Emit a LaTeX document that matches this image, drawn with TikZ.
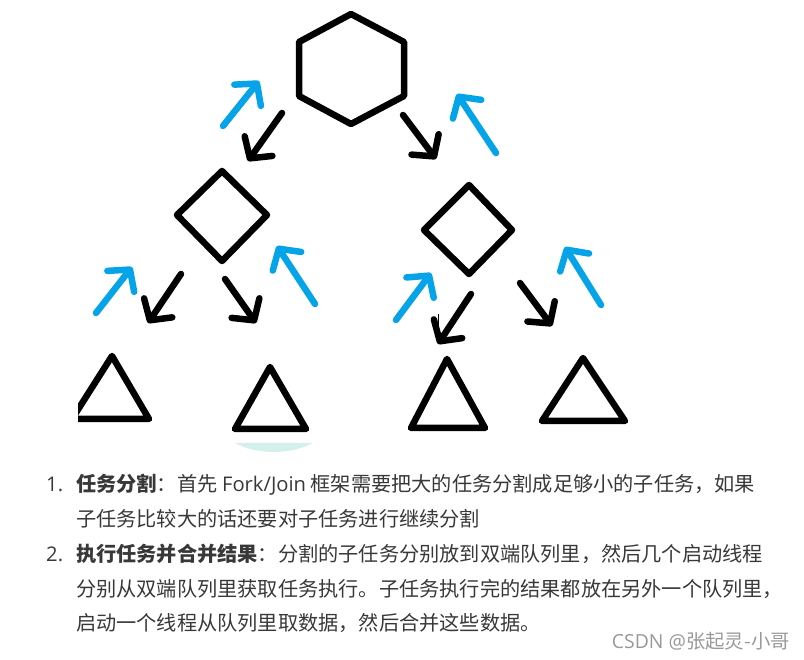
\documentclass[tikz,border=0pt]{standalone}
\usepackage{fontspec}
\setmainfont{Noto Sans CJK SC}
\newfontfamily\latinfont{Open Sans}
\usetikzlibrary{arrows.meta}
\definecolor{skyarrow}{RGB}{5,163,232}
\definecolor{palemint}{RGB}{212,240,234}
\tikzset{
  x=1pt,y=-1pt,
  shapeline/.style={draw=black,line width=6.5pt,line join=round,line cap=round},
  downarrow/.style={draw=black,line width=6.5pt,line cap=round,line join=round,-{Straight Barb[length=15pt,width=34pt,round]}},
  uparrow/.style={draw=skyarrow,line width=6.5pt,line cap=round,line join=round,-{Straight Barb[length=15pt,width=34pt,round]}},
  itemtext/.style={anchor=base west,inner sep=0pt,text=black!78,font=\fontsize{20.2}{20.2}\selectfont},
  itemnum/.style={anchor=base west,inner sep=0pt,text=black!78,font=\latinfont\fontsize{20.2}{20.2}\selectfont}
}
\begin{document}
\begin{tikzpicture}
\useasboundingbox (0,0) rectangle (804,660);
\fill[palemint] (235,443) .. controls (258,455) and (290,455) .. (313,443) -- cycle;
% shapes
\draw[shapeline] (351,14)--(404,42)--(404,96)--(351,124)--(299,96)--(299,42)--cycle;
\draw[shapeline] (222,171)--(267,215)--(222,261)--(177,215)--cycle;
\draw[shapeline] (469,185)--(512,230)--(469,274)--(424,230)--cycle;
\begin{scope}
\clip (78,340) rectangle (170,435);
\draw[shapeline] (112,356)--(149,419)--(72,419)--cycle;
\end{scope}
\draw[shapeline] (270,367)--(306,429)--(235,429)--cycle;
\draw[shapeline] (447,359)--(485,428)--(411,428)--cycle;
\draw[shapeline] (583,358)--(625,421)--(542,421)--cycle;
% arrows
\coordinate (a1) at (282,113); \coordinate (a2) at (248,161);
\coordinate (b1) at (403,115); \coordinate (b2) at (436,159);
\coordinate (c1) at (223,126); \coordinate (c2) at (259,81);
\coordinate (d1) at (496,153); \coordinate (d2) at (457,94);
\draw[downarrow] (a1)--(a2);
\draw[downarrow] (b1)--(b2);
\draw[uparrow] (c1)--(c2);
\draw[uparrow] (d1)--(d2);
\coordinate (e1) at (181,274); \coordinate (e2) at (148,323);
\coordinate (f1) at (225,279); \coordinate (f2) at (256,323);
\coordinate (g1) at (96,313); \coordinate (g2) at (132,267);
\coordinate (h1) at (315,304); \coordinate (h2) at (277,246);
\draw[downarrow] (e1)--(e2);
\draw[downarrow] (f1)--(f2);
\draw[uparrow] (g1)--(g2);
\draw[uparrow] (h1)--(h2);
\coordinate (i1) at (471,294); \coordinate (i2) at (438,344);
\coordinate (j1) at (520,283); \coordinate (j2) at (552,326);
\coordinate (k1) at (396,320); \coordinate (k2) at (431,273);
\coordinate (l1) at (601,305); \coordinate (l2) at (565,247);
\draw[downarrow] (i1)--(i2);
\draw[downarrow] (j1)--(j2);
\draw[uparrow] (k1)--(k2);
\draw[uparrow] (l1)--(l2);
\draw[line width=1pt] (438,314)--(438,332);
% text
\node[itemnum] (n1) at (46,492) {1.};
\node[itemtext] (t1) at (76,492) {\textbf{任务分割}：首先 {\latinfont Fork/Join} 框架需要把大的任务分割成足够小的子任务，如果};
\node[itemtext] (t2) at (76,526.5) {子任务比较大的话还要对子任务进行继续分割};
\node[itemnum] (n2) at (46,561) {2.};
\node[itemtext] (t3) at (76,561) {\textbf{执行任务并合并结果}：分割的子任务分别放到双端队列里，然后几个启动线程};
\node[itemtext] (t4) at (76,596) {分别从双端队列里获取任务执行。子任务执行完的结果都放在另外一个队列里，};
\node[itemtext] (t5) at (76,630) {启动一个线程从队列里取数据，然后合并这些数据。};
\node[anchor=base east,inner sep=0pt,text=black!40,font=\fontsize{19.4}{19.4}\selectfont] (mark) at (790,648) {{\latinfont CSDN @}张起灵-小哥};
\end{tikzpicture}
\end{document}
